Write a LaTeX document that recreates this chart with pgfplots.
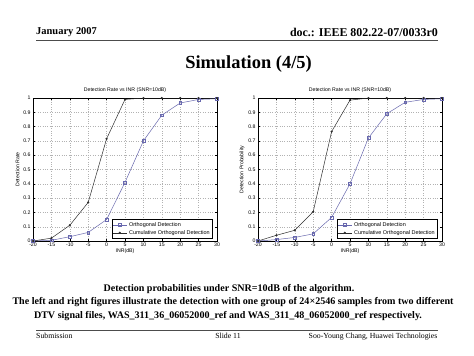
\documentclass[border=0pt]{standalone}
\usepackage{fontspec}
\setmainfont{Liberation Serif}
\newfontfamily\plotfont{Liberation Sans}
\usepackage{pgfplots}
\pgfplotsset{compat=1.18}
\definecolor{orth}{RGB}{105,105,175}
\definecolor{cum}{RGB}{45,45,45}
\newcommand{\pf}{\plotfont\fontsize{5.2}{5.5}\selectfont}
\newcommand{\tf}{\plotfont\fontsize{5.2}{5.5}\selectfont}
\newcommand{\lf}{\plotfont\fontsize{5.5}{6}\selectfont}
\pgfplotsset{
  mystyle/.style={
    scale only axis, width=184bp, height=143bp,
    xmin=-20, xmax=30, ymin=0, ymax=1,
    xtick={-20,-15,-10,-5,0,5,10,15,20,25,30},
    ytick={0,0.1,0.2,0.3,0.4,0.5,0.6,0.7,0.8,0.9,1},
    grid=major, grid style={dotted, gray!60, line width=0.4pt},
    tick align=inside, major tick length=2bp,
    tick style={black, line width=0.3pt},
    axis line style={line width=0.4pt},
    ticklabel style={font=\tf},
    xticklabel style={yshift=1.5bp},
    yticklabel style={xshift=1bp},
    /pgf/number format/assume math mode=true,
    label style={font=\pf},
    title style={font=\pf, yshift=-4.5bp},
    title={Detection Rate vs INR (SNR=10dB)},
    xlabel={INR(dB)},
    xlabel style={yshift=4.5bp},
    ylabel style={yshift=-3bp},
    legend style={at={(0.975,0.02)}, anchor=south east, font=\lf,
      inner sep=0.5pt, row sep=-1.5pt, draw=black, line width=0.3pt},
    legend image code/.code={\draw[mark repeat=2,mark phase=2,#1] plot coordinates {(0bp,0bp) (7bp,0bp) (14bp,0bp)};},
    legend cell align=left,
  },
  orthstyle/.style={color=orth, line width=0.5pt, mark=square, mark size=1.4bp, mark options={solid, line width=0.4pt}},
  cumstyle/.style={color=cum, line width=0.5pt, mark=*, mark size=0.8bp},
}
\begin{document}
\begin{tikzpicture}[x=1bp,y=1bp]
\path[use as bounding box] (0,0) rectangle (474,-355);
\fill[white] (0,0) rectangle (474,-355);
% header
\node[anchor=base west, inner sep=0, font=\bfseries\fontsize{10.5}{11}\selectfont] at (36,-34) {January 2007};
\node[anchor=base east, inner sep=0, font=\bfseries\fontsize{12}{13}\selectfont] at (438,-36.5) {doc.: IEEE 802.22-07/0033r0};
\draw[line width=0.8pt, gray!60!black] (36,-40) -- (438,-40);
\node[anchor=base, inner sep=0, font=\bfseries\fontsize{18.5}{20}\selectfont] at (248.5,-68) {Simulation (4/5)};
% left plot
\begin{axis}[mystyle, at={(33bp,-241bp)}, anchor=south west, ylabel={Detection Rate}]
\addplot[orthstyle] coordinates {(-20,0.0) (-15,0.005) (-10,0.03) (-5,0.06) (0,0.15) (5,0.41) (10,0.70) (15,0.88) (20,0.965) (25,0.99) (30,0.995)};
\addlegendentry{Orthogonal Detection}
\addplot[cumstyle] coordinates {(-20,0.0) (-15,0.02) (-10,0.11) (-5,0.27) (0,0.715) (5,0.99) (10,1.0) (15,1.0) (20,1.0) (25,1.0) (30,1.0)};
\addlegendentry{Cumulative Orthogonal Detection}
\end{axis}
% right plot
\begin{axis}[mystyle, at={(258bp,-241bp)}, anchor=south west, ylabel={Detection Probability}]
\addplot[orthstyle] coordinates {(-20,0.0) (-15,0.01) (-10,0.025) (-5,0.05) (0,0.165) (5,0.40) (10,0.72) (15,0.89) (20,0.97) (25,0.99) (30,0.995)};
\addlegendentry{Orthogonal Detection}
\addplot[cumstyle] coordinates {(-20,0.0) (-15,0.04) (-10,0.075) (-5,0.205) (0,0.765) (5,0.985) (10,1.0) (15,1.0) (20,1.0) (25,1.0) (30,1.0)};
\addlegendentry{Cumulative Orthogonal Detection}
\end{axis}
% caption
\begin{scope}[every node/.style={anchor=base, inner sep=0, font=\bfseries\fontsize{10.1}{11}\selectfont}]
\node at (229,-291) {Detection probabilities under SNR=10dB of the algorithm.};
\node at (233,-304.5) {The left and right figures illustrate the detection with one group of 24×2546 samples from two different};
\node at (228,-318) {DTV signal files, WAS\_311\_36\_06052000\_ref and WAS\_311\_48\_06052000\_ref respectively.};
\end{scope}
% footer
\draw[line width=0.8pt, gray!60!black] (36,-330) -- (438,-330);
\node[anchor=base west, inner sep=0, font=\fontsize{7.8}{8}\selectfont] at (36,-338.5) {Submission};
\node[anchor=base, inner sep=0, font=\fontsize{7.8}{8}\selectfont] at (228,-338) {Slide 11};
\node[anchor=base east, inner sep=0, font=\fontsize{7.8}{8}\selectfont] at (437.5,-338) {Soo-Young Chang, Huawei Technologies};
\end{tikzpicture}
\end{document}
